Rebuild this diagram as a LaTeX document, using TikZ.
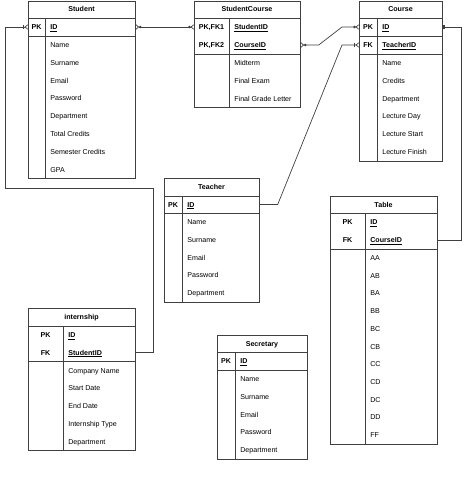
\documentclass[tikz,border=0pt]{standalone}
\usepackage{fontspec}
\setmainfont{Liberation Sans}
\usetikzlibrary{arrows.meta}
\newcommand\erfont{\fontsize{7.1}{8}\selectfont}
\tikzset{
  er/.style={draw=black!75, line width=0.7pt},
  tbl/.style={er, anchor=north west, inner sep=0pt},
  keyrow/.style={anchor=west, inner sep=0pt, minimum height=17.8},
  fld/.style={anchor=west, inner sep=0pt, text height=5.1pt, text depth=0pt, font=\erfont},
  kf/.style={fld, font=\erfont\bfseries},
  pk/.style={inner sep=0pt, text height=5.1pt, text depth=0pt, font=\erfont\bfseries},
  ttl/.style={pk},
  zmany/.tip={Circle[open, length=2.4pt, width=2.4pt] Straight Barb[reversed, length=2.5pt, width=4.5pt]},
  omany/.tip={Bar[width=4.5pt, sep=1pt] Straight Barb[reversed, length=2.5pt, width=4.5pt]},
  mone/.tip={Bar[width=4.5pt, sep=1pt] Bar[width=4.5pt]},
}
\begin{document}
\begin{tikzpicture}[x=1pt, y=-1pt, er]
  \useasboundingbox (0,0) rectangle (474,483);
  % Student
  \node[tbl, minimum width=107, minimum height=177.5] (student) at (28,0.5) {};
  \draw (28,18) -- (135,18) (28,36) -- (135,36) (45,18) -- (45,178);
  \node[ttl] (student-t) at (81.5,9) {Student};
  \node[keyrow, minimum width=107] (student-pk) at (28,27) {};
  \node[pk] (student-pkl) at (36.5,27) {PK}; \node[kf] (student-id) at (50,27) {\underline{ID}};
  \foreach \t [count=\i from 0] in {Name, Surname, Email, Password, Department,
                                    Total Credits, Semester Credits, GPA}
    \node[fld] (student-f\i) at (50,{45+17.8*\i}) {\t};
  % StudentCourse
  \node[tbl, minimum width=106, minimum height=106.5] (sc) at (194,0.5) {};
  \draw (194,18) -- (300,18) (194,54) -- (300,54) (229,18) -- (229,107);
  \node[ttl] (sc-t) at (247,9) {StudentCourse};
  \node[keyrow, minimum width=106] (sc-pk1) at (194,27) {};
  \node[keyrow, minimum width=106] (sc-pk2) at (194,45) {};
  \node[pk] (sc-pkl1) at (211.5,27) {PK,FK1}; \node[kf] (sc-sid) at (234,27) {\underline{StudentID}};
  \node[pk] (sc-pkl2) at (211.5,45) {PK,FK2}; \node[kf] (sc-cid) at (234,45) {\underline{CourseID}};
  \foreach \t [count=\i from 0] in {Midterm, Final Exam, Final Grade Letter}
    \node[fld] (sc-f\i) at (234,{63+17.8*\i}) {\t};
  % Course
  \node[tbl, minimum width=83, minimum height=160] (course) at (359,0.5) {};
  \draw (359,18) -- (442,18) (359,36) -- (442,36) (359,54) -- (442,54) (377,18) -- (377,160.5);
  \node[ttl] (course-t) at (400.5,9) {Course};
  \node[keyrow, minimum width=83] (course-pk) at (359,27) {};
  \node[keyrow, minimum width=83] (course-fk) at (359,45) {};
  \node[pk] (course-pkl) at (368,27) {PK}; \node[kf] (course-id) at (382,27) {\underline{ID}};
  \node[pk] (course-fkl) at (368,45) {FK}; \node[kf] (course-tid) at (382,45) {\underline{TeacherID}};
  \foreach \t [count=\i from 0] in {Name, Credits, Department, Lecture Day,
                                    Lecture Start, Lecture Finish}
    \node[fld] (course-f\i) at (382,{63+17.8*\i}) {\t};
  % Teacher
  \node[tbl, minimum width=95, minimum height=124] (teacher) at (164,178) {};
  \draw (164,196) -- (259,196) (164,213.5) -- (259,213.5) (182,196) -- (182,302);
  \node[ttl] (teacher-t) at (211.5,187) {Teacher};
  \node[keyrow, minimum width=95] (teacher-pk) at (164,204.5) {};
  \node[pk] (teacher-pkl) at (173,204.5) {PK}; \node[kf] (teacher-id) at (187,204.5) {\underline{ID}};
  \foreach \t [count=\i from 0] in {Name, Surname, Email, Password, Department}
    \node[fld] (teacher-f\i) at (187,{222+17.8*\i}) {\t};
  % Table
  \node[tbl, minimum width=107, minimum height=248] (table) at (330,196) {};
  \draw (330,213.5) -- (437,213.5) (330,249) -- (437,249) (365,213.5) -- (365,444);
  \node[ttl] (table-t) at (383.5,205) {Table};
  \node[keyrow, minimum width=107] (table-pk) at (330,222) {};
  \node[keyrow, minimum width=107] (table-fk) at (330,240) {};
  \node[pk] (table-pkl) at (347.5,222) {PK}; \node[kf] (table-id) at (370,222) {\underline{ID}};
  \node[pk] (table-fkl) at (347.5,240) {FK}; \node[kf] (table-cid) at (370,240) {\underline{CourseID}};
  \foreach \t [count=\i from 0] in {AA, AB, BA, BB, BC, CB, CC, CD, DC, DD, FF}
    \node[fld] (table-f\i) at (370,{258+17.7*\i}) {\t};
  % internship
  \node[tbl, minimum width=107, minimum height=142] (intern) at (28,308) {};
  \draw (28,326) -- (135,326) (28,361) -- (135,361) (63,326) -- (63,450);
  \node[ttl] (intern-t) at (81.5,317) {internship};
  \node[keyrow, minimum width=107] (intern-pk) at (28,335) {};
  \node[keyrow, minimum width=107] (intern-fk) at (28,352.5) {};
  \node[pk] (intern-pkl) at (45.5,335) {PK}; \node[kf] (intern-id) at (68,335) {\underline{ID}};
  \node[pk] (intern-fkl) at (45.5,352.5) {FK}; \node[kf] (intern-sid) at (68,352.5) {\underline{StudentID}};
  \foreach \t [count=\i from 0] in {Company Name, Start Date, End Date,
                                    Internship Type, Department}
    \node[fld] (intern-f\i) at (68,{370.5+17.8*\i}) {\t};
  % Secretary
  \node[tbl, minimum width=90, minimum height=124] (sec) at (217,335) {};
  \draw (217,352.5) -- (307,352.5) (217,370) -- (307,370) (235,352.5) -- (235,459);
  \node[ttl] (sec-t) at (262,344) {Secretary};
  \node[keyrow, minimum width=90] (sec-pk) at (217,361) {};
  \node[pk] (sec-pkl) at (226,361) {PK}; \node[kf] (sec-id) at (240,361) {\underline{ID}};
  \foreach \t [count=\i from 0] in {Name, Surname, Email, Password, Department}
    \node[fld] (sec-f\i) at (240,{379+17.8*\i}) {\t};
  % relations
  \coordinate (wrap-a) at (5,188); \coordinate (wrap-b) at (153,188);
  \draw[zmany-zmany] (student-pk.east) -- (sc-pk1.west);
  \draw[zmany-zmany] (sc-pk2.east) -- ++(18,0) -- ([xshift=-17]course-pk.west) -- (course-pk.west);
  \draw[-omany] (teacher-pk.east) -- ++(18,0) -- ([xshift=-17]course-fk.west) -- (course-fk.west);
  \draw[mone-] (course-pk.east) -- ++(19,0) |- (table-fk.east);
  \draw[omany-] (student-pk.west) -| (wrap-a) -- (wrap-b) |- (intern-fk.east);
\end{tikzpicture}
\end{document}
